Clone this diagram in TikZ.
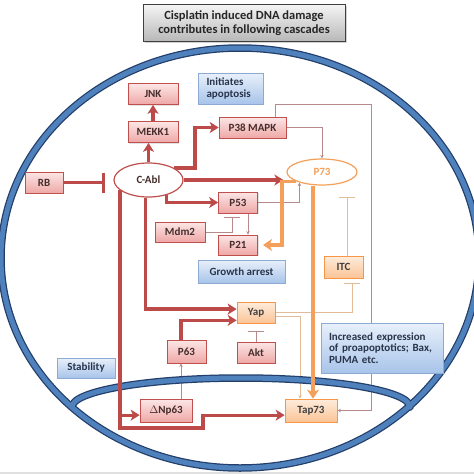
\documentclass[tikz,border=0pt]{standalone}
\usepackage{fontspec}
\setmainfont{Carlito}
\usetikzlibrary{arrows.meta,shadows,backgrounds,shapes.geometric}
\definecolor{pinkdraw}{RGB}{192,80,77}
\definecolor{pinktop}{RGB}{252,230,230}
\definecolor{pinkbot}{RGB}{238,168,166}
\definecolor{pinktext}{RGB}{70,45,45}
\definecolor{orgdraw}{RGB}{247,150,70}
\definecolor{orgtop}{RGB}{254,236,220}
\definecolor{orgbot}{RGB}{250,196,150}
\definecolor{bluedraw}{RGB}{140,170,210}
\definecolor{bluetop}{RGB}{232,240,250}
\definecolor{bluebot}{RGB}{168,196,234}
\definecolor{bluetext}{RGB}{40,52,75}
\definecolor{redline}{RGB}{188,74,72}
\definecolor{orgline}{RGB}{244,160,90}
\definecolor{roseline}{RGB}{182,138,138}
\definecolor{tanline}{RGB}{226,188,150}
\definecolor{band}{RGB}{79,129,189}
\definecolor{bandedge}{RGB}{35,62,105}
\newcommand\dgfont{\fontsize{11}{12}\selectfont\bfseries}
\begin{document}
\begin{tikzpicture}[x=1pt,y=-1pt,
  sz/.style 2 args={minimum width=#1pt, minimum height=#2pt},
  shad/.style={drop shadow={shadow xshift=1.2pt,shadow yshift=-1.2pt,opacity=0.22}},
  pinkbox/.style={rectangle, draw=pinkdraw, line width=0.7pt, top color=pinktop, bottom color=pinkbot, text=pinktext, font=\dgfont, inner sep=1pt, shad},
  orgbox/.style={rectangle, draw=orgdraw, line width=0.7pt, top color=orgtop, bottom color=orgbot, text=black!75, font=\dgfont, inner sep=1pt, shad},
  bluebox/.style={rectangle, draw=bluedraw, line width=0.7pt, top color=bluetop, bottom color=bluebot, text=bluetext, font=\dgfont, inner sep=1pt, shad},
  titlebox/.style={rectangle, draw=black!75, line width=0.9pt, top color=black!4, bottom color=black!28, text=black!85, font=\fontsize{12.5}{14}\selectfont\bfseries, align=center, drop shadow={shadow xshift=1.5pt,shadow yshift=-1.5pt,opacity=0.35}},
  redoval/.style={ellipse, draw=pinkdraw, line width=1.2pt, fill=white, text=pinktext, font=\dgfont, inner sep=0pt},
  orgoval/.style={ellipse, draw=orgline, line width=1.2pt, fill=white, text=orgline, font=\dgfont, inner sep=0pt},
  thickred/.style={draw=redline, line width=3.2pt, -{Stealth[length=9pt,width=11pt,inset=2.5pt]}},
  thickorg/.style={draw=orgline, line width=3.6pt, -{Stealth[length=9pt,width=12pt,inset=2.5pt]}},
  thinrose/.style={draw=roseline, line width=0.8pt, -{Stealth[length=3.5pt,width=3.5pt]}},
  thintan/.style={draw=tanline, line width=0.8pt, -{Stealth[length=3.5pt,width=3.5pt]}},
  inhrose/.style={draw=roseline, line width=0.8pt, -{Bar[width=16pt]}},
  inhtan/.style={draw=tanline, line width=0.8pt, -{Bar[width=16pt]}},
  bandout/.style={draw=bandedge, line width=7.5pt},
  bandin/.style={draw=band, line width=5pt}
]
\useasboundingbox (0,0) rectangle (474,474);

% nodes
\node[titlebox, sz={202}{37}] (title) at (244,23) {Cisplatin induced DNA damage\\contributes in following cascades};
\node[pinkbox, sz={50}{21}] (jnk) at (153,94) {JNK};
\node[pinkbox, sz={50}{21}] (mekk) at (153,132) {MEKK1};
\node[bluebox, sz={65}{31}, align=left, text width=48pt] (init) at (230.5,88.5) {Initiates\\apoptosis};
\node[pinkbox, sz={67}{21}] (p38) at (252.5,127.5) {P38 MAPK};
\node[redoval, sz={69}{34}] (cabl) at (148.5,180) {C-Abl};
\node[pinkbox, sz={38}{21}] (rb) at (44,182.5) {RB};
\node[orgoval, sz={70}{26}] (p73) at (322,172) {P73};
\node[pinkbox, sz={39}{21}] (p53) at (238,202.5) {P53};
\node[pinkbox, sz={50}{20}] (mdm2) at (180,232) {Mdm2};
\node[pinkbox, sz={39}{20}] (p21) at (238,245) {P21};
\node[bluebox, sz={87}{23}] (growth) at (241.5,271.5) {Growth arrest};
\node[orgbox, sz={39}{22}] (itc) at (343.5,267) {ITC};
\node[orgbox, sz={38}{21}] (yap) at (256,312.5) {Yap};
\node[pinkbox, sz={38}{21}] (akt) at (256,352.5) {Akt};
\node[pinkbox, sz={39}{23}] (p63) at (186.5,351.5) {P63};
\node[bluebox, sz={58}{20}] (stab) at (86,368) {Stability};
\node[pinkbox, sz={52}{23}] (dnp) at (166,410.5) {$\Delta$Np63};
\node[orgbox, sz={52}{23}] (tap) at (311,410.5) {Tap73};
\node[bluebox, sz={122}{50}, align=left, text width=106pt, font=\fontsize{11}{11.3}\selectfont\bfseries] (incr) at (382,348) {Increased expression\\of proapoptotics; Bax,\\PUMA etc.};

% helper coordinates
\coordinate (k1) at (195,0);
\coordinate (k4) at (203,428);
\coordinate (k5) at (275,0);
\coordinate (k6) at (371,104);
\coordinate (k8) at (248,0);
\coordinate (k9) at (232,217);
\coordinate (k10) at (282,245);
\coordinate (k11) at (263,245);
\coordinate (k12) at (313,0);
\coordinate (k13) at (347,0);
\coordinate (k14) at (347,197);
\coordinate (k15) at (352,283);
\coordinate (k16) at (300,0);
\coordinate (k18) at (256,331);
\coordinate (k19) at (181,0);
\coordinate (k20) at (105,182.5);

\begin{scope}[on background layer]
\fill[white] (0,0) rectangle (474,474);
\fill[black!12] (0,471.5) rectangle (474,474);

% thin connectors (under the membranes)
\draw[thinrose] (p38.east) -| (p73.north);
\draw[thinrose] (p38.north -| k5) |- (k6) |- (tap.east);
\draw[thinrose] (p53.east) -| (p73.-155);
\draw[thinrose] (p53.south -| k8) -- (p21.north -| k8);
\draw[inhrose] (mdm2.east) -| (k9);
\draw[inhtan] (itc.north -| k13) -- (k14);
\draw[inhtan] (yap.east) -| (k15);
\draw[thintan] (yap.-10) -| (tap.north -| k16);
\draw[inhrose] (akt.north) -- (k18);
\draw[thinrose] (dnp.north -| k19) -- (p63.south -| k19);

% cell and nucleus
\draw[bandout] (240,258) ellipse[x radius=239, y radius=210];
\draw[bandout, line cap=round] (72,407) arc[start angle=180, end angle=360, x radius=169, y radius=29];
\draw[bandin] (240,258) ellipse[x radius=239, y radius=210];
\draw[bandin, line cap=round] (72,407) arc[start angle=180, end angle=360, x radius=169, y radius=29];

% thick connectors
\draw[thickred] (cabl.north) -- (cabl.north |- mekk.south);
\draw[thickred] (mekk.north) -- (jnk.south);
\draw[thickred] (cabl.25) -- (cabl.25 -| k1) |- (p38.west);
\draw[thickred, shorten >=3pt] (cabl.east) -- (cabl.east -| p73.west);
\draw[thickred] (cabl.-40) |- (p53.west);
\draw[thickred] (cabl.-100) |- (yap.170);
\draw[thickred] (cabl.-160) |- (dnp.-170);
\draw[thickred] (cabl.-160) |- (k4) |- (tap.-170);
\draw[thickred] (p63.north -| k19) |- (yap.-158);
\draw[draw=redline, line width=3.2pt, -{Bar[width=20pt]}] (rb.east) -- (k20);
\draw[thickorg] (p73.-160) -| (k10) -- (k11);
\draw[thickorg] (p73.south -| k12) -- (tap.north -| k12);
\end{scope}
\end{tikzpicture}
\end{document}
